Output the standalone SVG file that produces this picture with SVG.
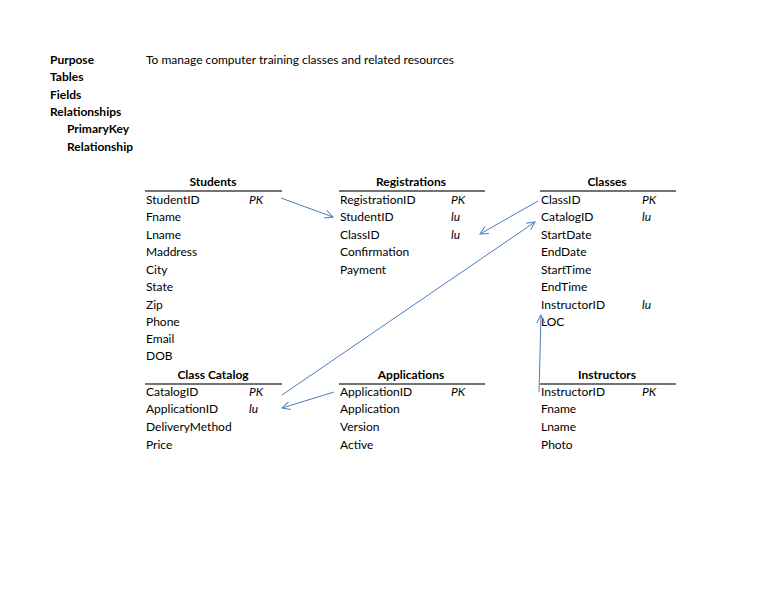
<svg xmlns="http://www.w3.org/2000/svg" width="768" height="594" viewBox="0 0 768 594">
<defs>
<style>
text{font-family:Lato,"Liberation Sans",sans-serif;font-size:12px;fill:#000}
.b{font-weight:bold}
.t{font-weight:bold;text-anchor:middle}
.i{font-style:italic}
.u{stroke:#444;stroke-width:1.3}
.c{stroke:#4a7ebb;stroke-width:1;fill:none}
</style>
<marker id="ar" markerWidth="10" markerHeight="10" refX="9" refY="5" orient="auto" markerUnits="userSpaceOnUse">
<path d="M1,1 L9,5 L1,9" fill="none" stroke="#4a7ebb" stroke-width="1"/>
</marker>
</defs>
<rect width="768" height="594" fill="#fff"/>
<g id="header">
<text class="b" x="50" y="64">Purpose</text>
<text class="b" x="50" y="81">Tables</text>
<text class="b" x="50" y="99">Fields</text>
<text class="b" x="50" y="116">Relationships</text>
<text class="b" x="67" y="133">PrimaryKey</text>
<text class="b" x="67" y="151">Relationship</text>
<text x="146" y="64">To manage computer training classes and related resources</text>
</g>
<g id="students">
<text class="t" x="213" y="186">Students</text>
<line class="u" x1="145" y1="191" x2="282" y2="191"/>
<text x="146" y="204">StudentID</text><text class="i" x="249" y="204">PK</text>
<text x="146" y="221">Fname</text>
<text x="146" y="239">Lname</text>
<text x="146" y="256">Maddress</text>
<text x="146" y="274">City</text>
<text x="146" y="291">State</text>
<text x="146" y="309">Zip</text>
<text x="146" y="326">Phone</text>
<text x="146" y="343">Email</text>
<text x="146" y="360">DOB</text>
</g>
<g id="registrations">
<text class="t" x="411" y="186">Registrations</text>
<line class="u" x1="339" y1="191" x2="485" y2="191"/>
<text x="340" y="204">RegistrationID</text><text class="i" x="451" y="204">PK</text>
<text x="340" y="221">StudentID</text><text class="i" x="451" y="221">lu</text>
<text x="340" y="239">ClassID</text><text class="i" x="451" y="239">lu</text>
<text x="340" y="256">Confirmation</text>
<text x="340" y="274">Payment</text>
</g>
<g id="classes">
<text class="t" x="607" y="186">Classes</text>
<line class="u" x1="540" y1="191" x2="676" y2="191"/>
<text x="541" y="204">ClassID</text><text class="i" x="642" y="204">PK</text>
<text x="541" y="221">CatalogID</text><text class="i" x="642" y="221">lu</text>
<text x="541" y="239">StartDate</text>
<text x="541" y="256">EndDate</text>
<text x="541" y="274">StartTime</text>
<text x="541" y="291">EndTime</text>
<text x="541" y="309">InstructorID</text><text class="i" x="642" y="309">lu</text>
<text x="541" y="326">LOC</text>
</g>
<g id="classcatalog">
<text class="t" x="213" y="379">Class Catalog</text>
<line class="u" x1="145" y1="384" x2="282" y2="384"/>
<text x="146" y="396">CatalogID</text><text class="i" x="249" y="396">PK</text>
<text x="146" y="413">ApplicationID</text><text class="i" x="249" y="413">lu</text>
<text x="146" y="431">DeliveryMethod</text>
<text x="146" y="449">Price</text>
</g>
<g id="applications">
<text class="t" x="411" y="379">Applications</text>
<line class="u" x1="339" y1="384" x2="485" y2="384"/>
<text x="340" y="396">ApplicationID</text><text class="i" x="451" y="396">PK</text>
<text x="340" y="413">Application</text>
<text x="340" y="431">Version</text>
<text x="340" y="449">Active</text>
</g>
<g id="instructors">
<text class="t" x="607" y="379">Instructors</text>
<line class="u" x1="540" y1="384" x2="676" y2="384"/>
<text x="541" y="396">InstructorID</text><text class="i" x="642" y="396">PK</text>
<text x="541" y="413">Fname</text>
<text x="541" y="431">Lname</text>
<text x="541" y="449">Photo</text>
</g>
<g id="connectors">
<line class="c" x1="281" y1="198" x2="333" y2="217" marker-end="url(#ar)"/>
<line class="c" x1="538" y1="201" x2="480" y2="234" marker-end="url(#ar)"/>
<line class="c" x1="282" y1="395" x2="535" y2="222" marker-end="url(#ar)"/>
<line class="c" x1="334" y1="392" x2="282" y2="408" marker-end="url(#ar)"/>
<line class="c" x1="539" y1="392" x2="541" y2="315" marker-end="url(#ar)"/>
</g>
</svg>
